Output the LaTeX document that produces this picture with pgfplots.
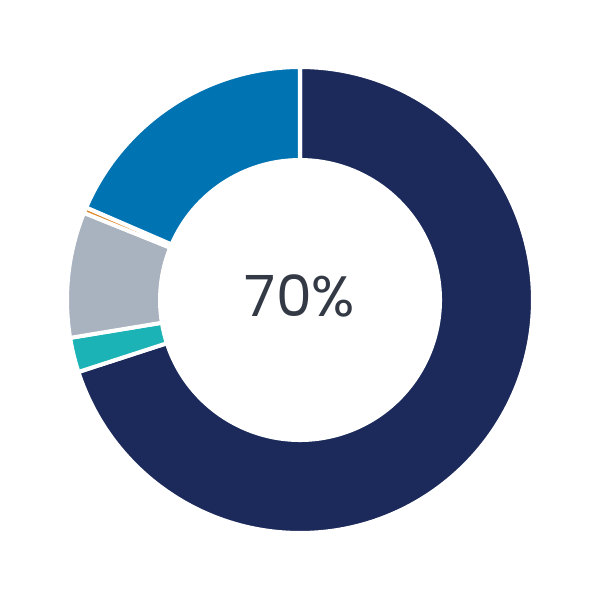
\documentclass[border=0pt]{standalone}
\usepackage{pgfplots}
\usepackage{pgfplotstable}
\pgfplotsset{compat=1.18}
\usepackage{fontspec}
\setmainfont{Poppins}
\definecolor{cnavy}{HTML}{1B2A5B}
\definecolor{cteal}{HTML}{1BB3B5}
\definecolor{cgray}{HTML}{A9B2BF}
\definecolor{corange}{HTML}{E0892A}
\definecolor{cblue}{HTML}{0073B2}
\definecolor{ctext}{HTML}{333A45}
\pgfplotstableread{
name value color
A 70.0 cnavy
B 2.4 cteal
C 8.7 cgray
D 0.4 corange
E 18.5 cblue
}\piedata
\begin{document}
\begin{tikzpicture}
\begin{axis}[x=1cm,y=1cm,xmin=-5,xmax=5,ymin=-5,ymax=5,hide axis,
  clip=false]
\path (axis cs:-5,-5) rectangle (axis cs:5,5);
\pgfplotsextra{
  \pgfplotstablegetrowsof{\piedata}
  \pgfmathtruncatemacro{\nrows}{\pgfplotsretval-1}
  \gdef\cumang{90}
  \foreach \i in {0,...,\nrows}{
    \pgfplotstablegetelem{\i}{value}\of\piedata
    \pgfmathsetmacro{\val}{\pgfplotsretval}
    \pgfplotstablegetelem{\i}{color}\of\piedata
    \edef\col{\pgfplotsretval}
    \pgfmathsetmacro{\a}{\cumang}
    \pgfmathsetmacro{\b}{\cumang-3.6*\val}
    \fill[\col,draw=white,line width=1.9pt,line join=miter]
      (axis cs:{3.883*cos(\a)},{3.883*sin(\a)})
      arc[start angle=\a,end angle=\b,radius=3.883cm]
      -- (axis cs:{2.333*cos(\b)},{2.333*sin(\b)})
      arc[start angle=\b,end angle=\a,radius=2.333cm] -- cycle;
    \xdef\cumang{\b}
  }
}
\node[text=ctext,font=\fontsize{27}{30}\selectfont] at (axis cs:0,0.07) {70\%};
\end{axis}
\end{tikzpicture}
\end{document}
